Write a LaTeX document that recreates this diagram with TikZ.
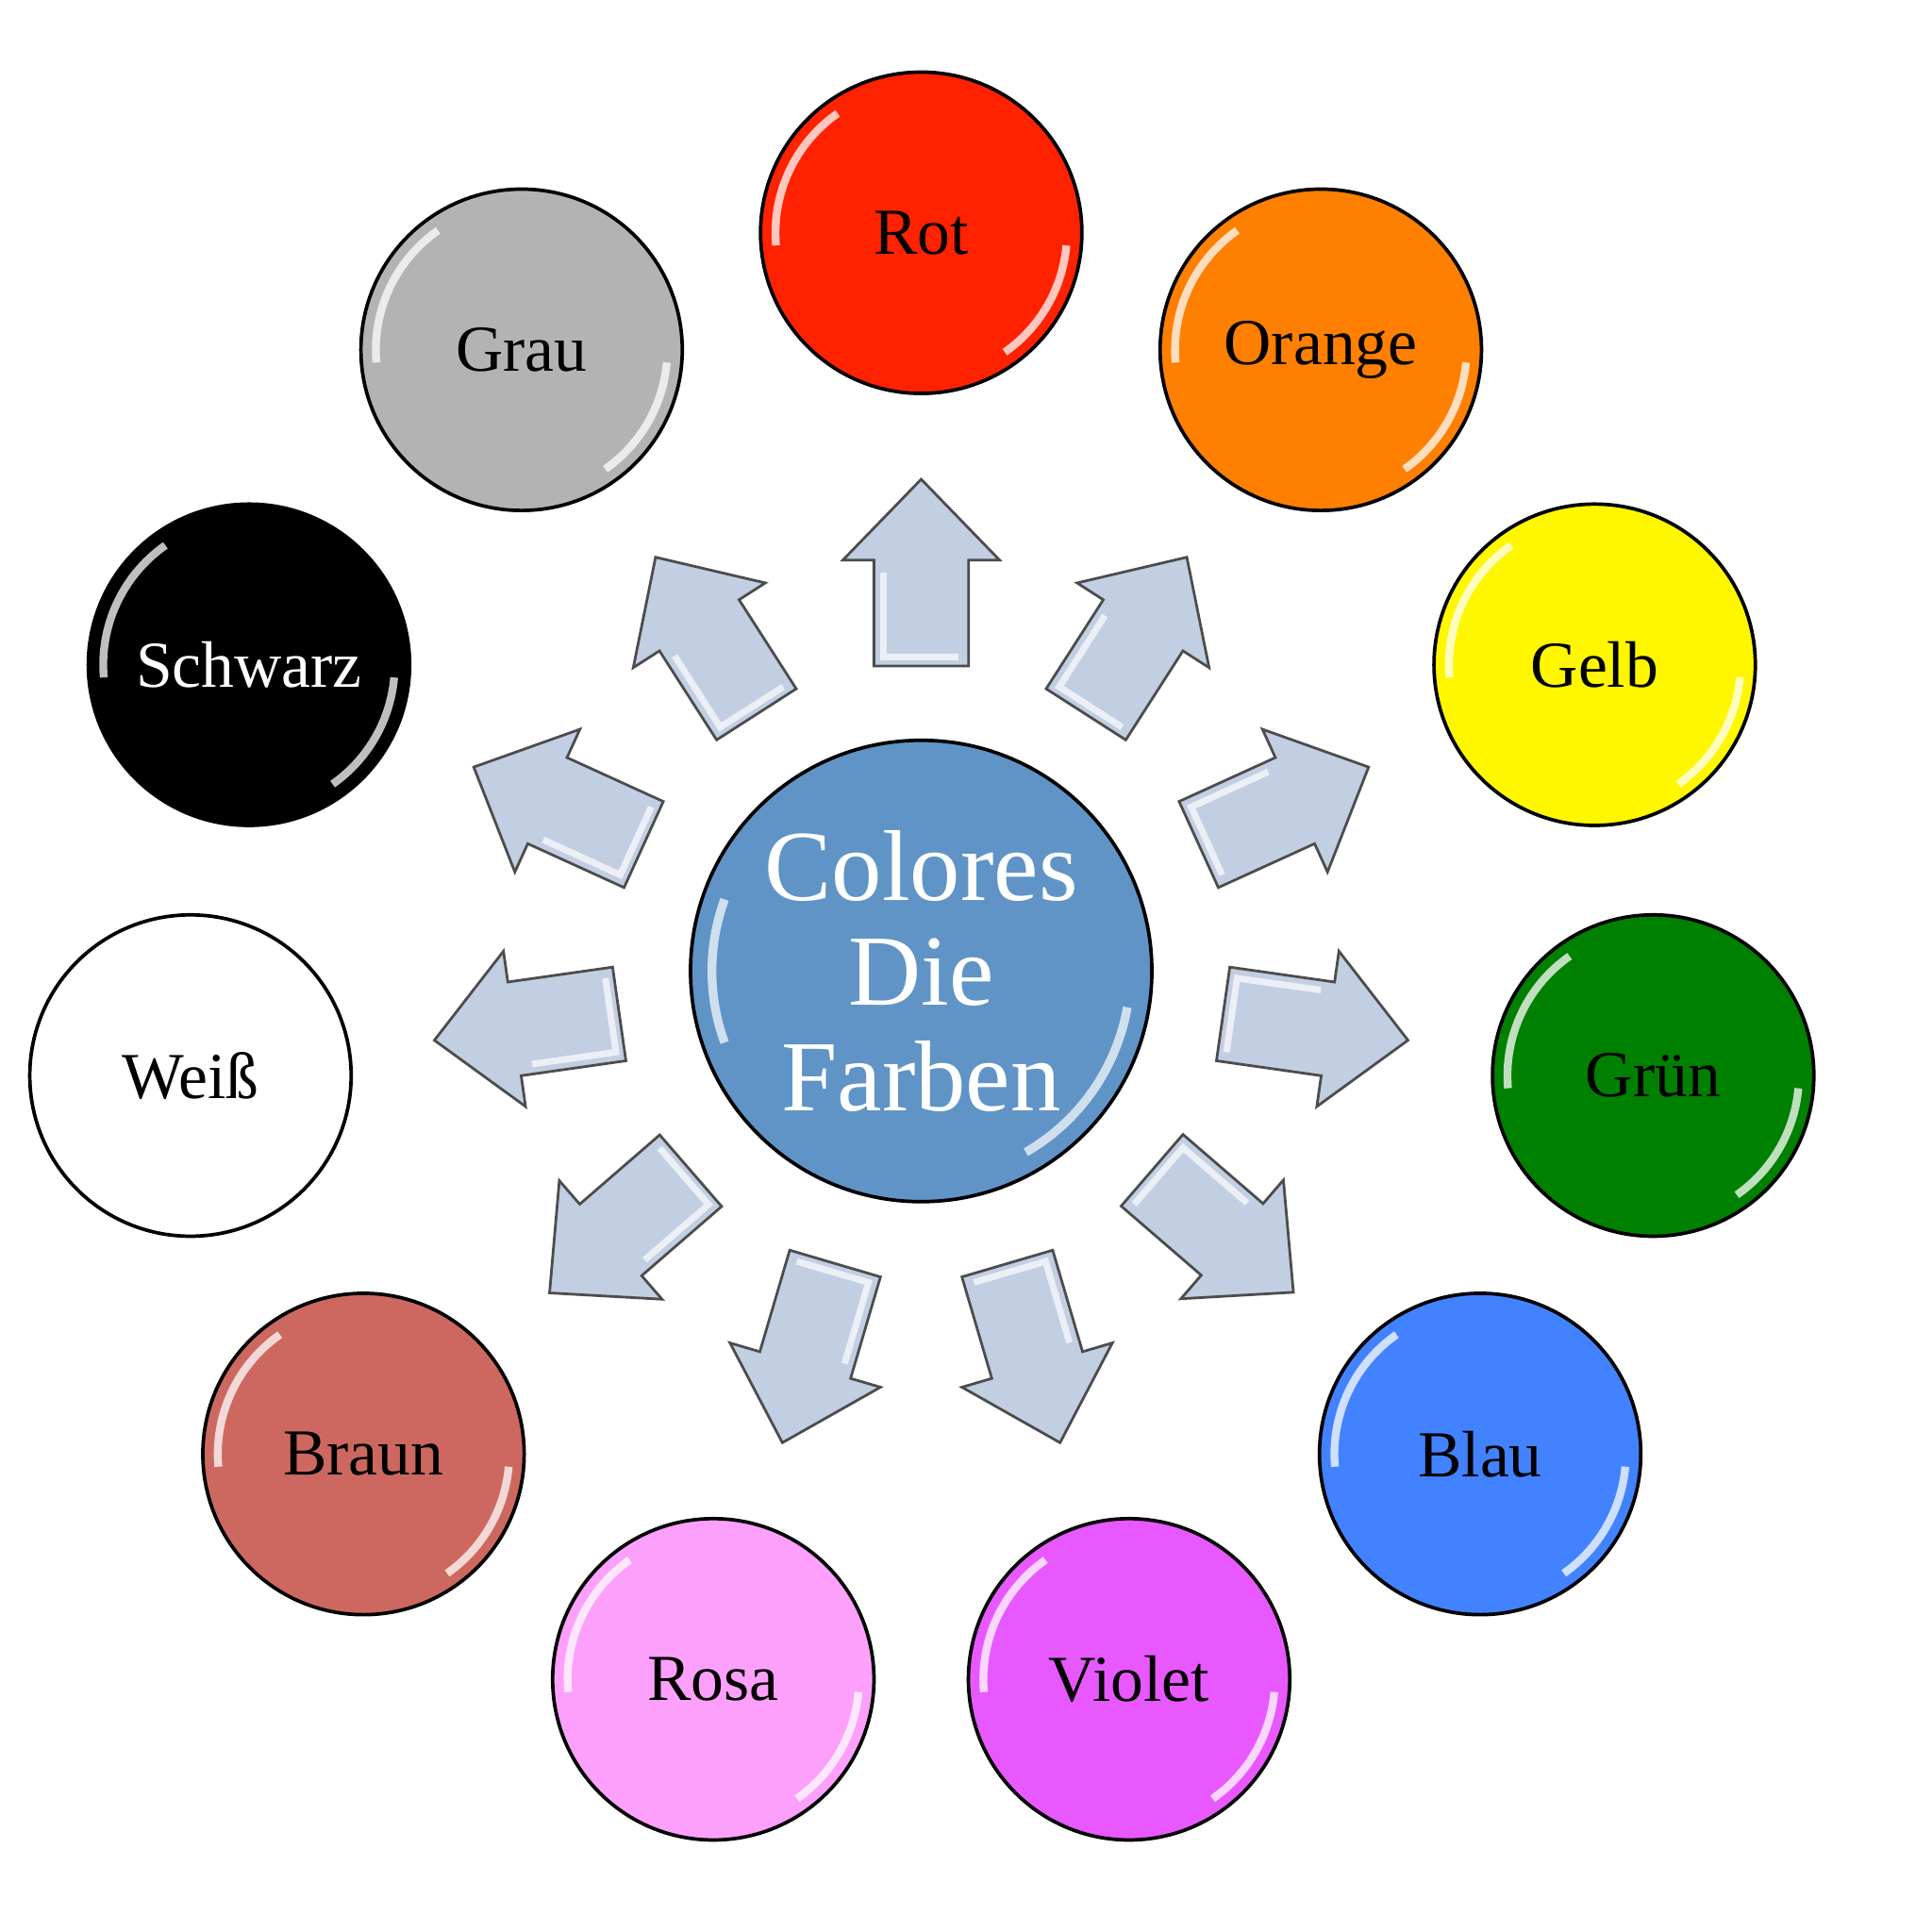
\documentclass[tikz,border=0pt]{standalone}
\usepackage{fontspec}
\setmainfont{Liberation Serif}
\begin{document}
\begin{tikzpicture}[x=0.01cm,y=-0.01cm,
  col/.style={circle,draw=black,line width=0.8pt,minimum size=2.58cm,inner sep=0pt,font=\fontsize{15}{15}\selectfont},
  arr/.style={fill=arrowfill,draw=black!70,line width=0.6pt,line join=miter}]
\definecolor{arrowfill}{HTML}{C2CEE2}
\useasboundingbox (0,0) rectangle (1552,1552);
\foreach \a in {90,57.3,24.5,-8.1,-40.8,-73.6,-106.4,-139.1,-171.9,155.5,122.7}{
  \begin{scope}[shift={(740,780)},x=0.01cm,y=0.01cm,rotate=\a]
    \draw[arr] (245,-38)--(330,-38)--(330,-63)--(395,0)--(330,63)--(330,38)--(245,38)--cycle;
    \draw[white,line width=1.5pt,opacity=0.7] (252,-30)--(252,30)--(320,30);
  \end{scope}}
\node[circle,draw=black,line width=0.8pt,fill={rgb,255:red,96;green,148;blue,198},minimum size=3.66cm,text=white,align=center,font=\fontsize{23}{24}\selectfont] (c) at (740,780) {Colores\\Die\\Farben};
\draw[white,line width=2pt,opacity=0.7] (c.center) ++(200:1.68cm) arc (200:160:1.68cm);
\draw[white,line width=2pt,opacity=0.7] (c.center) ++(-60:1.68cm) arc (-60:-10:1.68cm);
\foreach \n/\x/\y/\f/\t in {rot/740/187/FF2200/black, orange/1061/281/FF7F00/black, gelb/1281/534/FFF700/black, gruen/1328/864/008000/black, blau/1189/1168/4282FF/black, violet/907/1349/E858FF/black, rosa/573/1349/FCA0FC/black, braun/292/1168/CD6860/black, weiss/153/864/FFFFFF/black, schwarz/200/534/000000/white, grau/419/281/B3B3B3/black}{
  \definecolor{fc}{HTML}{\f}
  \node[col,fill=fc] (\n) at (\x,\y) {};
  \draw[white,line width=1.8pt,opacity=0.75] (\n.center) ++(185:1.17cm) arc (185:125:1.17cm);
  \draw[white,line width=1.8pt,opacity=0.75] (\n.center) ++(-55:1.17cm) arc (-55:-5:1.17cm);
}
\node[font=\fontsize{15}{15}\selectfont] at (rot) {Rot};
\node[font=\fontsize{15}{15}\selectfont] at (orange) {Orange};
\node[font=\fontsize{15}{15}\selectfont] at (gelb) {Gelb};
\node[font=\fontsize{15}{15}\selectfont] at (gruen) {Grün};
\node[font=\fontsize{15}{15}\selectfont] at (blau) {Blau};
\node[font=\fontsize{15}{15}\selectfont] at (violet) {Violet};
\node[font=\fontsize{15}{15}\selectfont] at (rosa) {Rosa};
\node[font=\fontsize{15}{15}\selectfont] at (braun) {Braun};
\node[font=\fontsize{15}{15}\selectfont] at (weiss) {Weiß};
\node[font=\fontsize{15}{15}\selectfont,text=white] at (schwarz) {Schwarz};
\node[font=\fontsize{15}{15}\selectfont] at (grau) {Grau};
\end{tikzpicture}
\end{document}
